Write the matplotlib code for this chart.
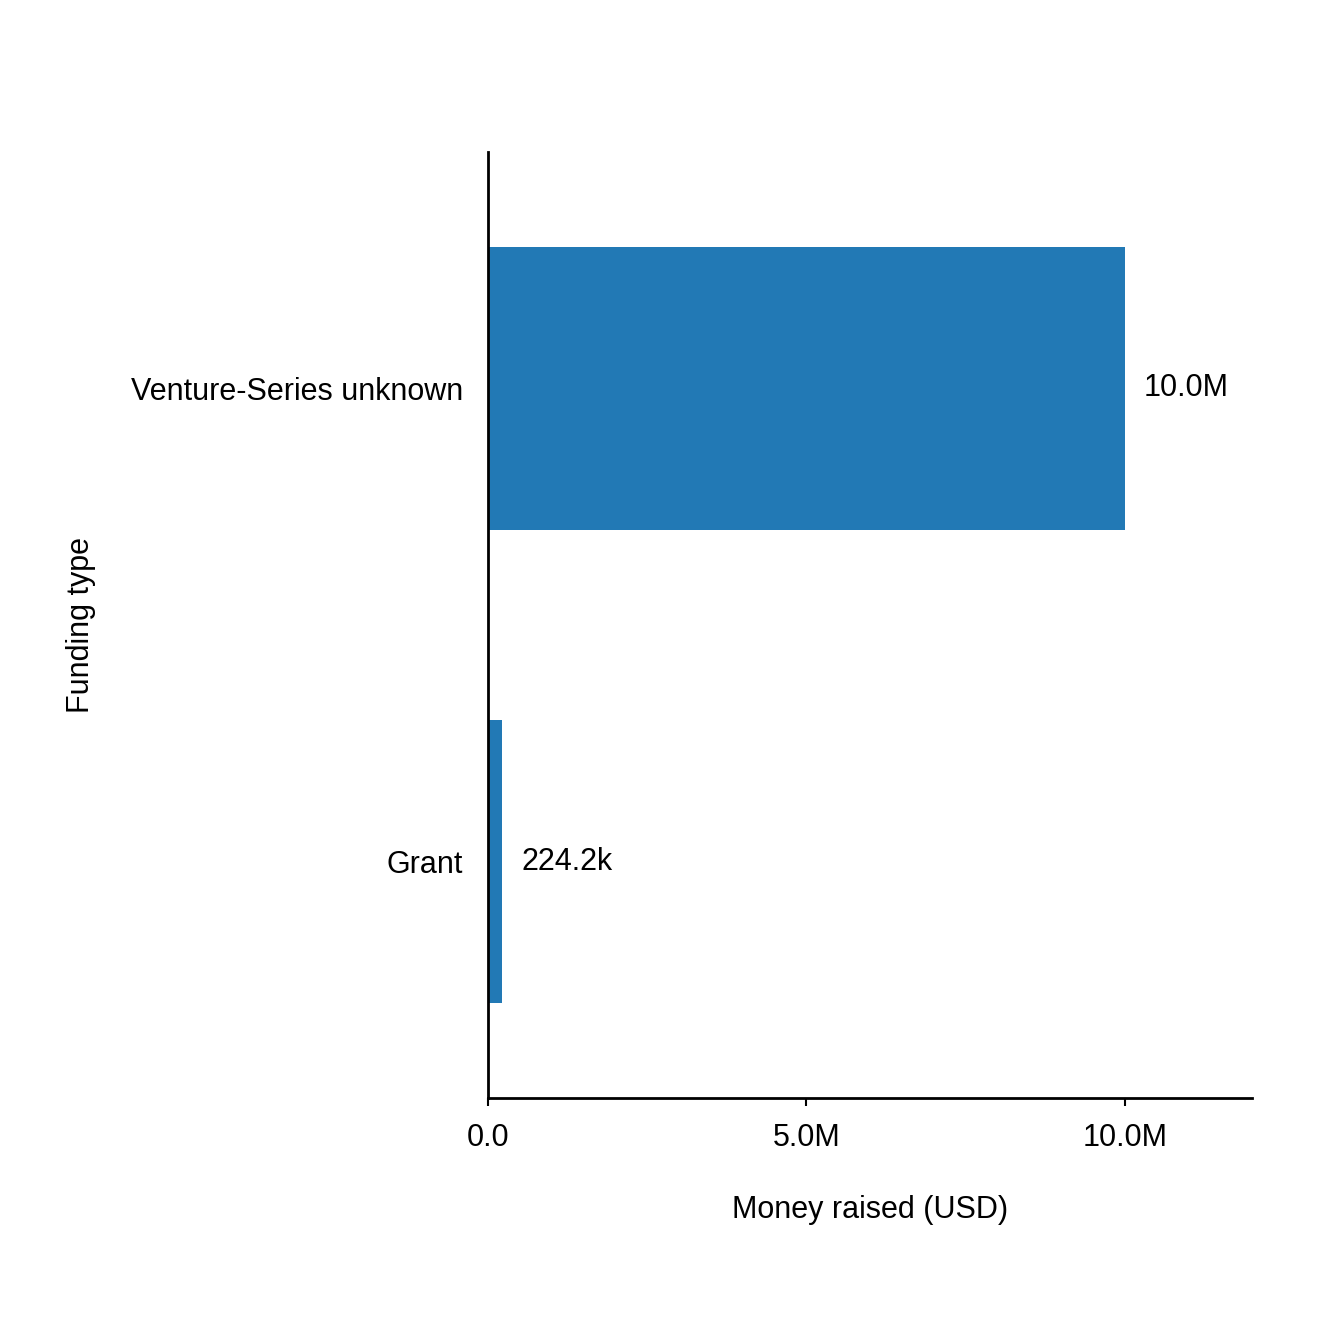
import matplotlib
matplotlib.use("Agg")
import matplotlib.pyplot as plt
from matplotlib.ticker import FuncFormatter

categories = ["Venture-Series unknown", "Grant"]
values = [10.0e6, 224.2e3]
labels = ["10.0M", "224.2k"]

plt.rcParams['font.family'] = ['Liberation Sans', 'DejaVu Sans']
fig = plt.figure(figsize=(13.2, 13.2), dpi=100)
ax = fig.add_axes([488/1320, 1-1098/1320, (1252-488)/1320, (1098-152)/1320])
ypos = list(range(len(categories)))
ax.barh(ypos, values, height=0.6, color="#2279b5")
ax.set_ylim(len(categories)-0.5, -0.5)
ax.set_xlim(0, 12e6)
ax.set_yticks(ypos)
ax.set_yticklabels(categories, fontsize=22)
ax.set_xticks([0, 5e6, 10e6])
ax.xaxis.set_major_formatter(FuncFormatter(lambda v, p: "0.0" if v == 0 else f"{v/1e6:.1f}M"))
ax.tick_params(axis='x', labelsize=22, length=6, width=1.5, pad=12)
ax.tick_params(axis='y', length=0, pad=18)
for s in ["top", "right"]:
    ax.spines[s].set_visible(False)
for s in ["left", "bottom"]:
    ax.spines[s].set_linewidth(2)
for y, v, l in zip(ypos, values, labels):
    ax.text(v + 0.3e6, y, l, va="center", ha="left", fontsize=22)
ax.set_xlabel("Money raised (USD)", fontsize=22, labelpad=30)
ax.set_ylabel("Funding type", fontsize=22, labelpad=25)
fig.savefig("out.png", dpi=100)
